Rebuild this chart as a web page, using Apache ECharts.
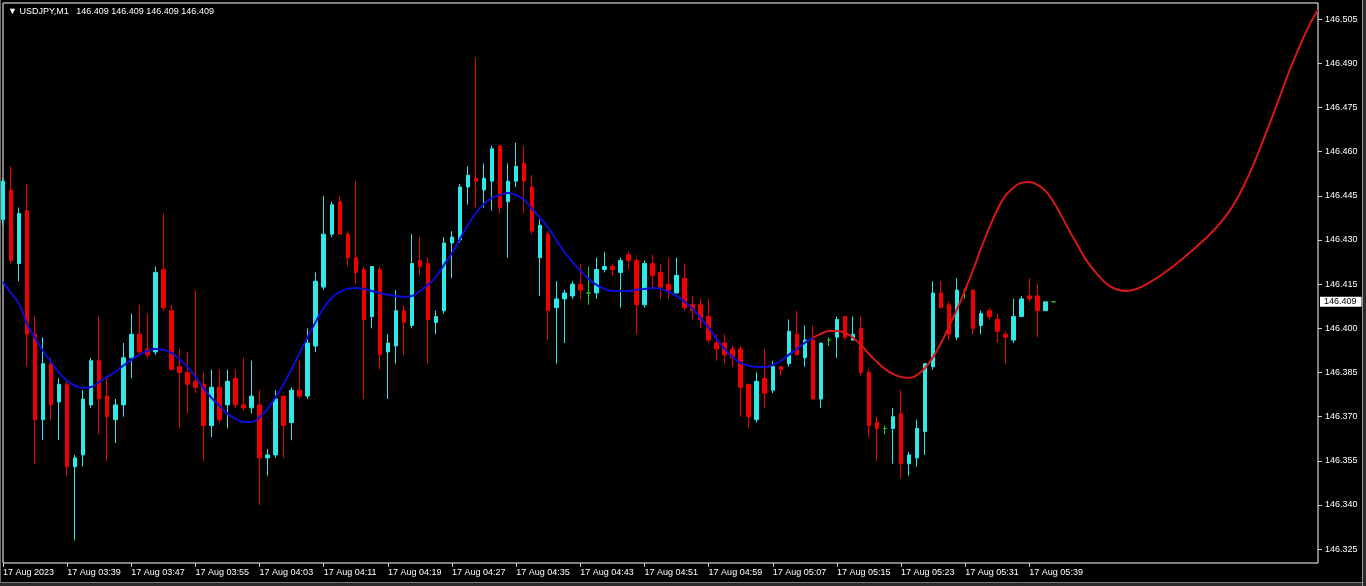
<!DOCTYPE html>
<html><head><meta charset="utf-8">
<script src="https://cdn.jsdelivr.net/npm/echarts@6/dist/echarts.min.js"></script>
<style>html,body{margin:0;padding:0;background:#000;}#c{width:1366px;height:586px;}</style>
</head><body><div id="c"></div>
<script>
// ---- data ----
const symbolTitle = 'USDJPY,M1';
const startMinute = 3 * 60 + 31;   // 03:31, first bar
const totalSlots = 165;            // bars + empty right shift
const xTickLabels = ['17 Aug 2023','17 Aug 03:39','17 Aug 03:47','17 Aug 03:55','17 Aug 04:03','17 Aug 04:11','17 Aug 04:19','17 Aug 04:27','17 Aug 04:35','17 Aug 04:43','17 Aug 04:51','17 Aug 04:59','17 Aug 05:07','17 Aug 05:15','17 Aug 05:23','17 Aug 05:31','17 Aug 05:39'];
const yTickLabels = [146.325,146.340,146.355,146.370,146.385,146.400,146.415,146.430,146.445,146.460,146.475,146.490,146.505];
const yMin = 146.3203, yMax = 146.5105;

const opens = [146.437,146.447,146.422,146.440,146.398,146.369,146.388,146.375,146.381,146.353,
146.357,146.374,146.389,146.377,146.369,146.374,146.390,146.398,146.393,146.392,
146.420,146.406,146.387,146.385,146.382,146.381,146.367,146.380,146.374,146.383,
146.374,146.373,146.374,146.356,146.357,146.377,146.368,146.379,146.377,146.394,
146.414,146.432,146.443,146.432,146.424,146.420,146.404,146.420,146.392,146.394,
146.406,146.401,146.423,146.422,146.402,146.406,146.429,146.430,146.448,146.451,
146.447,146.450,146.462,146.443,146.450,146.456,146.448,146.424,146.432,146.407,
146.410,146.411,146.415,146.412,146.412,146.420,146.421,146.419,146.425,146.423,
146.408,146.422,146.419,146.415,146.412,146.417,146.408,146.408,146.404,146.395,
146.395,146.393,146.393,146.381,146.369,146.383,146.379,146.387,146.388,146.398,
146.390,146.396,146.376,146.396,146.397,146.404,146.396,146.400,146.385,146.368,
146.366,146.366,146.371,146.354,146.356,146.365,146.387,146.412,146.408,146.397,
146.413,146.413,146.401,146.406,146.403,146.398,146.396,146.404,146.411,146.411,
146.406,146.409];
const highs = [146.451,146.455,146.441,146.449,146.404,146.397,146.390,146.383,146.382,146.357,
146.379,146.390,146.404,146.383,146.376,146.395,146.405,146.408,146.405,146.421,
146.439,146.408,146.393,146.392,146.413,146.385,146.386,146.386,146.386,146.386,
146.390,146.389,146.379,146.359,146.379,146.377,146.380,146.389,146.400,146.419,
146.445,146.443,146.445,146.433,146.450,146.421,146.421,146.421,146.398,146.413,
146.408,146.432,146.431,146.424,146.406,146.431,146.433,146.449,146.455,146.492,
146.456,146.462,146.462,146.456,146.463,146.462,146.452,146.437,146.433,146.416,
146.413,146.416,146.422,146.421,146.424,146.426,146.422,146.424,146.426,146.424,
146.423,146.425,146.422,146.424,146.424,146.422,146.411,146.410,146.410,146.398,
146.398,146.394,146.394,146.381,146.385,146.393,146.389,146.387,146.403,146.406,
146.401,146.401,146.395,146.397,146.404,146.404,146.404,146.404,146.386,146.370,
146.367,146.373,146.379,146.358,146.369,146.388,146.416,146.416,146.409,146.417,
146.413,146.413,146.406,146.407,146.405,146.399,146.410,146.411,146.417,146.415,
146.409,146.409];
const lows = [146.435,146.422,146.416,146.387,146.354,146.362,146.369,146.362,146.350,146.328,
146.353,146.373,146.364,146.355,146.361,146.370,146.383,146.391,146.390,146.391,
146.406,146.386,146.366,146.371,146.378,146.355,146.363,146.368,146.366,146.373,
146.372,146.371,146.340,146.350,146.356,146.356,146.362,146.376,146.376,146.392,
146.413,146.431,146.432,146.421,146.415,146.376,146.400,146.386,146.376,146.388,
146.391,146.400,146.418,146.388,146.398,146.405,146.417,146.429,146.442,146.441,
146.441,146.440,146.439,146.424,146.448,146.439,146.432,146.411,146.396,146.388,
146.395,146.410,146.410,146.408,146.410,146.419,146.418,146.407,146.420,146.398,
146.407,146.414,146.410,146.410,146.412,146.406,146.403,146.400,146.395,146.389,
146.388,146.387,146.370,146.366,146.368,146.373,146.378,146.384,146.387,146.391,
146.387,146.376,146.373,146.394,146.390,146.396,146.396,146.384,146.363,146.355,
146.364,146.354,146.349,146.350,146.353,146.357,146.386,146.407,146.396,146.396,
146.410,146.398,146.398,146.403,146.395,146.388,146.395,146.404,146.409,146.397,
146.406,146.409];
const closes = [146.450,146.423,146.439,146.398,146.369,146.388,146.374,146.381,146.353,146.356,
146.376,146.389,146.376,146.370,146.374,146.390,146.398,146.392,146.391,146.419,
146.407,146.386,146.385,146.381,146.380,146.367,146.380,146.369,146.382,146.374,
146.373,146.377,146.356,146.357,146.376,146.367,146.379,146.377,146.395,146.416,
146.432,146.442,146.432,146.424,146.419,146.403,146.421,146.391,146.395,146.406,
146.402,146.422,146.421,146.403,146.404,146.429,146.431,146.448,146.452,146.450,
146.451,146.461,146.441,146.450,146.455,146.450,146.433,146.435,146.406,146.410,
146.412,146.415,146.413,146.412,146.420,146.421,146.420,146.423,146.423,146.408,
146.422,146.418,146.414,146.413,146.418,146.407,146.406,146.403,146.396,146.393,
146.391,146.390,146.380,146.370,146.382,146.378,146.387,146.386,146.399,146.391,
146.396,146.376,146.395,146.396,146.403,146.397,146.398,146.385,146.367,146.366,
146.366,146.370,146.354,146.357,146.366,146.388,146.412,146.407,146.398,146.413,
146.413,146.400,146.405,146.404,146.399,146.397,146.404,146.410,146.410,146.406,
146.409,146.409];

// smoothed indicator: history part (blue) from bar 0, projected part (red) from bar 101
const maHistory = [146.4158,146.4120,146.4083,146.4015,146.3968,146.3923,146.3886,146.3849,146.3822,146.3805,
146.3798,146.3801,146.3818,146.3835,146.3852,146.3873,146.3893,146.3910,146.3923,146.3930,
146.3927,146.3917,146.3896,146.3869,146.3835,146.3798,146.3764,146.3737,146.3710,146.3693,
146.3682,146.3682,146.3699,146.3727,146.3767,146.3811,146.3862,146.3917,146.3971,146.4022,
146.4070,146.4103,146.4124,146.4134,146.4137,146.4134,146.4127,146.4120,146.4114,146.4110,
146.4107,146.4110,146.4127,146.4148,146.4175,146.4216,146.4256,146.4304,146.4351,146.4392,
146.4423,146.4443,146.4453,146.4460,146.4453,146.4436,146.4406,146.4375,146.4341,146.4300,
146.4260,146.4226,146.4195,146.4168,146.4148,146.4134,146.4127,146.4127,146.4127,146.4131,
146.4134,146.4137,146.4134,146.4124,146.4110,146.4090,146.4066,146.4036,146.4002,146.3964,
146.3930,146.3903,146.3883,146.3873,146.3869,146.3869,146.3876,146.3889,146.3910,146.3930,
146.3951,146.3968];
const maProjectionStart = 101;
const maProjection = [146.3968,146.3981,146.3991,146.3991,146.3985,146.3968,146.3944,146.3913,146.3886,146.3862,
146.3845,146.3835,146.3832,146.3842,146.3866,146.3903,146.3951,146.4008,146.4066,146.4131,
146.4199,146.4273,146.4341,146.4402,146.4450,146.4477,146.4494,146.4497,146.4487,146.4467,
146.4430,146.4382,146.4331,146.4283,146.4236,146.4199,146.4168,146.4144,146.4131,146.4127,
146.4131,146.4141,146.4156,146.4173,146.4192,146.4212,146.4234,146.4257,146.4281,146.4306,
146.4333,146.4364,146.4400,146.4445,146.4499,146.4559,146.4627,146.4698,146.4769,146.4844,
146.4912,146.4976,146.5034,146.5082];

// ---- build ----
const pad = n => (n < 10 ? '0' : '') + n;
const categories = [];
for (let i = 0; i < totalSlots; i++) {
  const m = startMinute + i;
  categories.push('17 Aug ' + pad(Math.floor(m / 60)) + ':' + pad(m % 60));
}
const UP = '#2fe8e8', DOWN = '#f20000', DOJI = '#22cc22';
const candleData = opens.map((o, i) => {
  const item = { value: [o, closes[i], lows[i], highs[i]] };
  if (Math.abs(o - closes[i]) < 1e-9) {
    item.itemStyle = { color: DOJI, color0: DOJI, borderColor: DOJI, borderColor0: DOJI, borderColorDoji: DOJI };
  }
  return item;
});
const blueData = categories.map((c, i) => i < maHistory.length ? maHistory[i] : '-');
const redData = categories.map((c, i) => (i >= maProjectionStart && i - maProjectionStart < maProjection.length) ? maProjection[i - maProjectionStart] : '-');
const lastPrice = closes[closes.length - 1];
const FONT = 'Liberation Sans';

const option = {
  backgroundColor: '#000',
  animation: false,
  title: {
    text: '\u25BC ' + symbolTitle + '   ' + [lastPrice, lastPrice, lastPrice, lastPrice].map(v => v.toFixed(3)).join(' '),
    left: 8, top: 7, padding: 0,
    textStyle: { color: '#fff', fontSize: 9, fontWeight: 'normal', fontFamily: FONT }
  },
  graphic: [
    { type: 'rect', silent: true, shape: { x: 1362, y: 0, width: 4, height: 586 }, style: { fill: '#2a2a2a' } },
    { type: 'line', silent: true, shape: { x1: 1362.5, y1: 0, x2: 1362.5, y2: 586 }, style: { stroke: '#9a9a9a', lineWidth: 1 } },
    { type: 'rect', silent: true, shape: { x: 0, y: 583, width: 1362, height: 3 }, style: { fill: '#2a2a2a' } },
    { type: 'line', silent: true, shape: { x1: 0, y1: 582.5, x2: 1362, y2: 582.5 }, style: { stroke: '#7a7a7a', lineWidth: 1 } },
    { type: 'line', silent: true, shape: { x1: 0.5, y1: 0, x2: 0.5, y2: 583 }, style: { stroke: '#6a6a6a', lineWidth: 1 } }
  ],
  grid: { left: 3, top: 3, width: 1315, height: 560, show: true, borderColor: '#ffffff', borderWidth: 1, backgroundColor: 'transparent' },
  xAxis: {
    type: 'category', data: categories, boundaryGap: false,
    axisLine: { show: false },
    axisTick: { show: true, length: 4, interval: (i) => i % 8 === 0 && i / 8 < xTickLabels.length, lineStyle: { color: '#cccccc' } },
    axisLabel: {
      interval: (i) => i % 8 === 0 && i / 8 < xTickLabels.length,
      formatter: (v, i) => xTickLabels[i / 8] || '',
      align: 'left', margin: 5, color: '#ffffff', fontSize: 9, fontFamily: FONT
    },
    splitLine: { show: false }
  },
  yAxis: [{
    type: 'value', position: 'right', min: yMin, max: yMax, scale: true,
    axisLine: { show: false },
    axisTick: { show: true, length: 4, customValues: yTickLabels, lineStyle: { color: '#cccccc' } },
    axisLabel: { customValues: yTickLabels, formatter: v => v.toFixed(3), margin: 7, color: '#ffffff', fontSize: 9, fontFamily: FONT },
    splitLine: { show: false }
  }, {
    type: 'value', position: 'right', min: yMin, max: yMax, scale: true,
    axisLine: { show: false }, axisTick: { show: false }, splitLine: { show: false },
    axisLabel: { customValues: [lastPrice], formatter: v => v.toFixed(3), margin: 2, color: '#000000', backgroundColor: '#ffffff', padding: [1, 5, 0, 4], fontSize: 9, fontFamily: FONT }
  }],
  series: [{
    type: 'candlestick', data: candleData, barWidth: 4, clip: true,
    itemStyle: { color: UP, color0: DOWN, borderColor: UP, borderColor0: DOWN, borderColorDoji: DOJI, borderWidth: 1 }
  }, {
    type: 'line', data: blueData, showSymbol: false, smooth: 0.5, clip: true,
    lineStyle: { color: '#0c0cd2', width: 2 }, z: 5
  }, {
    type: 'line', data: redData, showSymbol: false, smooth: 0.5, clip: true,
    lineStyle: { color: '#d81818', width: 2 }, z: 5
  }]
};
const chart = echarts.init(document.getElementById('c'));
chart.setOption(option);
</script></body></html>
